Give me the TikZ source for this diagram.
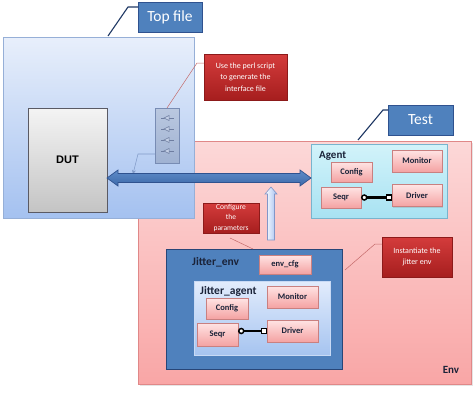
\documentclass[tikz,border=0pt]{standalone}
\usepackage{fontspec}
\setmainfont{Carlito}
\newfontfamily\dutfont{Liberation Sans}
\usetikzlibrary{arrows.meta,calc,shadows}
\definecolor{labelblue}{HTML}{4F81BD}
\definecolor{labeledge}{HTML}{2F528F}
\definecolor{navy}{HTML}{1F3864}
\definecolor{calltop}{HTML}{D43C3C}
\definecolor{callbot}{HTML}{A61E1E}
\definecolor{calledge}{HTML}{8C1A1A}
\definecolor{callline}{HTML}{C46A6A}
\definecolor{pinktop}{HTML}{FFE4E4}
\definecolor{pinkbot}{HTML}{F4A2A2}
\definecolor{pinkedge}{HTML}{C98080}
\definecolor{txtdark}{HTML}{1A2238}
\definecolor{envtop}{HTML}{FCD8D8}
\definecolor{envbot}{HTML}{F9A6A6}
\definecolor{envedge}{HTML}{E08888}
\tikzset{
  base/.style={rectangle, inner sep=0pt, outer sep=0pt},
  labelbox/.style={base, fill=labelblue, draw=labeledge, line width=0.8pt, text=white, font=\fontsize{15.5}{17}\selectfont},
  callout/.style={base, top color=calltop, bottom color=callbot, draw=calledge, line width=0.4pt, text=white, align=center,
     drop shadow={opacity=0.25, shadow xshift=1.2pt, shadow yshift=-1.2pt}},
  smallbox/.style={base, top color=pinktop, bottom color=pinkbot, draw=pinkedge, line width=0.5pt, text=txtdark,
     font=\bfseries\fontsize{8.5}{10}\selectfont,
     drop shadow={opacity=0.25, shadow xshift=1pt, shadow yshift=-1pt}},
  leaderline/.style={draw=navy, line width=1.1pt},
  callline/.style={draw=callline, line width=0.5pt},
  boxtitle/.style={anchor=west, inner sep=0pt, text=txtdark, font=\bfseries\fontsize{11.5}{13}\selectfont},
  portlink/.style={draw=black, line width=2.6pt,
     {Circle[open, fill=white, length=6.5pt, width=6.5pt, line width=1.5pt]}-{Square[open, fill=white, length=6.5pt, width=6.5pt, line width=1.5pt]}},
}
\begin{document}
\begin{tikzpicture}[x=1pt,y=-1pt]
\useasboundingbox (0,0) rectangle (474,407);
\fill[white] (0,0) rectangle (474,407);

% Env (pink) box
\node[base, top color=envtop, bottom color=envbot, draw=envedge,
  minimum width=333pt, minimum height=243pt,
  drop shadow={opacity=0.2, shadow xshift=1.5pt, shadow yshift=-1.5pt}] (env) at (304.5,262.5) {};
\node[anchor=center, inner sep=0pt, text=txtdark, font=\bfseries\fontsize{11}{13}\selectfont] (envlbl) at (451,370) {Env};

% Top file (blue) box
\node[base, top color={rgb,255:red,232;green,239;blue,251}, bottom color={rgb,255:red,164;green,193;blue,240},
  draw={rgb,255:red,150;green,175;blue,215}, minimum width=191pt, minimum height=181pt] (top) at (98.5,127.5) {};

% DUT
\node[base, top color={rgb,255:red,244;green,244;blue,244}, bottom color={rgb,255:red,196;green,196;blue,196},
  draw={rgb,255:red,90;green,90;blue,100}, line width=0.8pt, minimum width=79pt, minimum height=104pt,
  font=\dutfont\bfseries\fontsize{11}{13}\selectfont] (dut) at (67.5,160) {DUT};

% interface block
\node[base, top color={rgb,255:red,186;green,200;blue,224}, bottom color={rgb,255:red,160;green,178;blue,210},
  draw={rgb,255:red,120;green,140;blue,180}, line width=0.5pt, minimum width=24pt, minimum height=55pt] (iface) at (167,135.5) {};
\foreach \yy in {118,129,140,151}{
  \draw[draw={rgb,255:red,110;green,125;blue,160}, line width=0.5pt] (161,\yy) -- (174,\yy);
  \draw[draw={rgb,255:red,110;green,125;blue,160}, line width=0.5pt, fill={rgb,255:red,196;green,208;blue,230}] (164,\yy) -- (169,\yy-2.5) -- (169,\yy+2.5) -- cycle;
}

% labels
\node[labelbox, minimum width=64pt, minimum height=30pt] (toplabel) at (170,17) {Top file};
\node[labelbox, minimum width=65pt, minimum height=30pt] (testlabel) at (420.5,120) {Test};
\coordinate (topbend) at (128,7);
\coordinate (topend) at (108,36);
\draw[leaderline] (toplabel.west |- topbend) -- (topbend) -- (topend);
\coordinate (testbend) at (383,110);
\coordinate (testend) at (358,140);
\draw[leaderline] (testlabel.west |- testbend) -- (testbend) -- (testend);

% perl callout
\node[callout, minimum width=83pt, minimum height=46pt, font=\fontsize{8}{11.5}\selectfont] (perl) at (245.5,77)
  {Use the perl script\\to generate the\\interface file};
\coordinate (perlbend) at (197,63);
\draw[callline] (perl.west |- perlbend) -- (perlbend) -- (iface.north);

% interface to bus
\coordinate (ifbend) at (138,154);
\coordinate (ifend) at (133,174);
\draw[draw={rgb,255:red,130;green,155;blue,200}, line width=0.6pt, -{Stealth[length=4pt,width=4pt]}]
  (iface.west |- ifbend) -- (ifbend) -- (ifend);

% Agent
\node[base, top color={rgb,255:red,210;green,243;blue,250}, bottom color={rgb,255:red,168;green,226;blue,242},
  draw={rgb,255:red,120;green,180;blue,205}, line width=0.6pt, minimum width=136pt, minimum height=74pt,
  drop shadow={opacity=0.2, shadow xshift=1pt, shadow yshift=-1pt}] (agent) at (379,181) {};
\node[boxtitle, font=\bfseries\fontsize{11}{13}\selectfont] (agentlbl) at (319,156) {Agent};
\node[smallbox, minimum width=41pt, minimum height=20pt] (aconfig) at (351.5,172) {Config};
\node[smallbox, minimum width=50pt, minimum height=22pt] (amon) at (417,161) {Monitor};
\node[smallbox, minimum width=40pt, minimum height=21pt] (aseqr) at (341,197.5) {Seqr};
\node[smallbox, minimum width=50pt, minimum height=22pt] (adriver) at (417,195.5) {Driver};
\draw[portlink] (aseqr.east) -- (aseqr.east -| adriver.west);

% big double arrow
\coordinate (busy) at (0,178);
\coordinate (L) at (dut.east |- busy);
\coordinate (R) at (agent.west |- busy);
\draw[draw=labeledge, line width=0.7pt, top color={rgb,255:red,95;green,140;blue,200}, bottom color={rgb,255:red,60;green,105;blue,170}]
  (L) -- ($(L)+(11,-8)$) -- ($(L)+(11,-4.5)$) -- ($(R)+(-11,-4.5)$) -- ($(R)+(-11,-8)$) -- (R)
  -- ($(R)+(-11,8)$) -- ($(R)+(-11,4.5)$) -- ($(L)+(11,4.5)$) -- ($(L)+(11,8)$) -- cycle;

% Jitter env
\node[base, fill=labelblue, draw={rgb,255:red,40;green,70;blue,120}, line width=0.8pt, minimum width=176pt, minimum height=120pt,
  drop shadow={opacity=0.2, shadow xshift=1pt, shadow yshift=-1pt}] (jenv) at (254,309) {};
\node[boxtitle] (jenvlbl) at (192,262) {Jitter\_env};
\node[smallbox, minimum width=52pt, minimum height=19pt] (envcfg) at (285,264.5) {env\_cfg};

% Jitter agent
\node[base, top color={rgb,255:red,226;green,236;blue,252}, bottom color={rgb,255:red,166;green,196;blue,240},
  draw={rgb,255:red,200;green,218;blue,245}, line width=0.6pt, minimum width=136pt, minimum height=74pt] (jagent) at (262,318) {};
\node[boxtitle] (jagentlbl) at (200,291) {Jitter\_agent};
\node[smallbox, minimum width=51pt, minimum height=22pt] (jmon) at (292.5,297) {Monitor};
\node[smallbox, minimum width=42pt, minimum height=21pt] (jconfig) at (227,308.5) {Config};
\node[smallbox, minimum width=41pt, minimum height=23pt] (jseqr) at (217.5,334.5) {Seqr};
\node[smallbox, minimum width=51pt, minimum height=22pt] (jdriver) at (292.5,331) {Driver};
\draw[portlink] (jseqr.east |- jdriver.center) -- (jdriver.west);

% up arrow (configuration)
\coordinate (ub) at (271,240);
\coordinate (ut) at (271,187);
\draw[draw={rgb,255:red,130;green,150;blue,200}, line width=0.6pt, left color=white, right color={rgb,255:red,160;green,190;blue,240}]
  (ut) -- ($(ut)+(6,7)$) -- ($(ut)+(3.5,7)$) -- ($(ub)+(3.5,0)$) -- ($(ub)+(-3.5,0)$) -- ($(ut)+(-3.5,7)$) -- ($(ut)+(-6,7)$) -- cycle;

% configure callout
\node[callout, minimum width=56pt, minimum height=30pt, font=\fontsize{7.5}{10.5}\selectfont] (cfg) at (231,218)
  {Configure\\the\\parameters};
\coordinate (cfgstart) at (230,238);
\coordinate (cfgend) at (253,249);
\draw[callline] (cfgstart) -- (cfgend);

% instantiate callout
\node[callout, minimum width=70pt, minimum height=40pt, font=\fontsize{8}{10.5}\selectfont] (inst) at (417,257)
  {Instantiate the\\jitter env};
\coordinate (instbend) at (375,244);
\coordinate (instend) at (345,270);
\draw[callline] (inst.west |- instbend) -- (instbend) -- (instend);
\end{tikzpicture}
\end{document}
